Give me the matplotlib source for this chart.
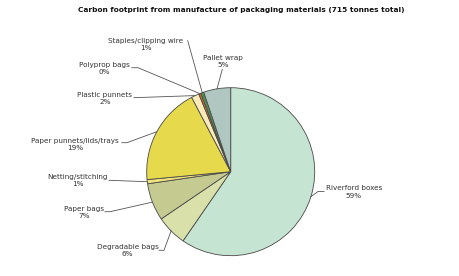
import numpy as np
import matplotlib
matplotlib.use("Agg")
import matplotlib.pyplot as plt

labels = ["Riverford boxes", "Degradable bags", "Paper bags", "Netting/stitching",
          "Paper punnets/lids/trays", "Plastic punnets", "Polyprop bags",
          "Staples/clipping wire", "Pallet wrap"]
values = [59.6, 5.9, 7.2, 0.8, 18.8, 1.5, 0.4, 0.6, 5.2]
pct_labels = ["59%", "6%", "7%", "1%", "19%", "2%", "0%", "1%", "5%"]
colors = ["#c6e4d2", "#d9e0a9", "#c5ca91", "#f0e27a", "#e6d94c", "#f9ebb8",
          "#e2661c", "#4f8f55", "#afc7c0"]

W, H = 460, 276
fig = plt.figure(figsize=(W/100, H/100), dpi=100)
ax = fig.add_axes([0, 0, 1, 1])
ax.set_xlim(0, W)
ax.set_ylim(0, H)
ax.set_aspect("equal")
ax.axis("off")

cx, cy, R = 230.7, H - 171.7, 84
wedges, _ = ax.pie(values, colors=colors, startangle=90, counterclock=False,
                   center=(cx, cy), radius=R,
                   wedgeprops=dict(edgecolor="#4a4a4a", linewidth=0.6))
ax.set_xlim(0, W)
ax.set_ylim(0, H)

# text centres (pixel coords, y from top), leader start and optional kink
text_pos = [(354, 192), (127.5, 251), (84, 213), (78, 181), (75, 144),
            (105, 98), (104, 68), (146, 44.5), (223, 61)]
line_start = [(324, 191.5), (159, 250.3), (105, 211.7), (109, 180.3), (121.7, 142.7),
              (134, 97.7), (131.7, 67.7), (187.7, 40.7), (222.3, 69.3)]
kinks = [(318, 191.5), (164, 250.3), (110, 211.7), None, (127, 142.7),
         None, (138, 67.7), None, None]

fs = 5.2
for i, w in enumerate(wedges):
    ang = np.deg2rad((w.theta1 + w.theta2) / 2)
    ax_ = cx + R * np.cos(ang)
    ay_ = cy + R * np.sin(ang)
    tx, ty = text_pos[i]
    ax.text(tx, H - ty, labels[i] + "\n" + pct_labels[i], ha="center", va="center",
            fontsize=fs, color="#333333", linespacing=1.2, family="DejaVu Sans")
    sx, sy = line_start[i]
    xs = [sx]
    ys = [H - sy]
    if kinks[i] is not None:
        xs.append(kinks[i][0])
        ys.append(H - kinks[i][1])
    xs.append(ax_)
    ys.append(ay_)
    ax.plot(xs, ys, color="#555555", lw=0.6)

ax.text(241, H - 9.5, "Carbon footprint from manufacture of packaging materials (715 tonnes total)",
        ha="center", va="center", fontsize=5.3, fontweight="bold", color="#111111",
        family="DejaVu Sans")

fig.savefig("out.png", dpi=100)
